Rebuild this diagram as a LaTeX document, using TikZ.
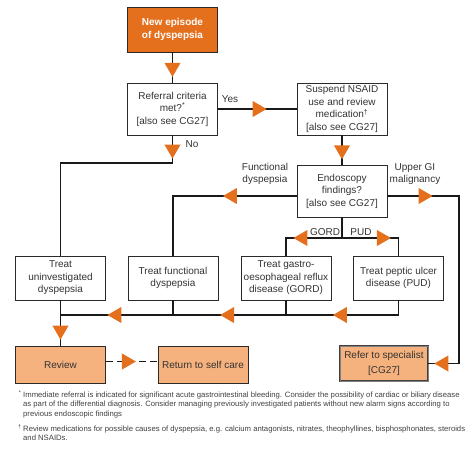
\documentclass[tikz,border=0pt]{standalone}
\usepackage{fontspec}
\setmainfont{Liberation Sans}
\usetikzlibrary{shapes.geometric}
\definecolor{darkorange}{HTML}{E4701E}
\definecolor{paleorange}{HTML}{F6B27E}
\definecolor{boxline}{HTML}{2E2A28}

\begin{document}
\begin{tikzpicture}[x=1pt,y=-1pt,
   box/.style={rectangle,draw=boxline,line width=0.9pt,minimum width=90pt,
    minimum height=52pt,inner sep=+2pt,align=center,text=black!80,
    font=\fontsize{10}{12.5}\selectfont},
   line/.style={draw=black!90,line width=1.3pt},
   tri/.style={isosceles triangle,isosceles triangle apex angle=60,
    fill=darkorange,inner sep=0pt,minimum height=14pt,sloped,
    allow upside down},
   lbl/.style={align=center,text=black!80,font=\fontsize{10}{12.5}\selectfont},
   note/.style={align=left,text=black!75,inner sep=0pt,
    font=\fontsize{7.7}{9.7}\selectfont}
    ]
    \useasboundingbox (0,0) rectangle (474,451);

    % Boxes:
    \node[box,fill=darkorange,minimum height=45pt,text=white,
      font=\fontsize{10}{12.5}\selectfont\bfseries] at (172.5,29.5) (start)
      {New episode\\of dyspepsia};
    \node[box] at (172.5,109) (refq)
      {Referral criteria\\met?\textsuperscript{*}\\{}[also see CG27]};
    \node[box] at (342,109) (nsaid)
      {Suspend NSAID\\use and review\\medication\textsuperscript{\dag}\\{}[also see CG27]};
    \node[box] at (342,191) (endo)
      {Endoscopy\\findings?\\{}[also see CG27]};
    \node[box,minimum height=44pt] at (60.5,278) (treatU)
      {Treat\\uninvestigated\\dyspepsia};
    \node[box,minimum height=44pt] at (173,278) (treatF)
      {Treat functional\\dyspepsia};
    \node[box,minimum height=44pt] at (286,278) (treatG)
      {Treat gastro-\\oesophageal reflux\\disease (GORD)};
    \node[box,minimum height=44pt] at (398.5,278) (treatP)
      {Treat peptic ulcer\\disease (PUD)};
    \node[box,fill=paleorange,minimum height=37pt] at (60.5,364.5) (review)
      {Review};
    \node[box,fill=paleorange,minimum height=37pt] at (203,364.5) (selfcare)
      {Return to self care};
    \node[box,fill=paleorange,minimum height=35pt,minimum width=88pt,
      draw=boxline!90,double=black!50,double distance=1pt,line width=0.9pt,
      font=\fontsize{10}{15}\selectfont] at (384,363.5) (refer)
      {Refer to specialist\\{}[CG27]};

    % corners of the lines
    \coordinate (noturn) at (172.5,163);
    \coordinate (malig) at (459,196);
    \coordinate (split) at (342,238);
    \coordinate (busU) at (60.5,315);
    \coordinate (busF) at (173,315);
    \coordinate (busG) at (286,315);
    \coordinate (busP) at (398.5,315);

    % labels
    \node[lbl] at (230,99) (yes) {Yes};
    \node[lbl] at (192,144) (no) {No};
    \node[lbl] at (265,174) (functional) {Functional\\dyspepsia};
    \node[lbl] at (415,174) (upper) {Upper GI\\malignancy};
    \node[lbl] at (325,232) (gord) {GORD};
    \node[lbl] at (361,232) (pud) {PUD};

    % arrows
    \draw[line] (start) -- node[tri] {} (refq);
    \draw[line] (refq) -- node[tri] {} (nsaid);
    \draw[line] (refq) -- node[tri] {} (noturn) -| (treatU);
    \draw[line] (nsaid) -- node[tri] {} (endo);
    \draw[line] ([yshift=-5pt]endo.west) -| node[tri,pos=0.26] {} (treatF);
    \draw[line] ([yshift=-5pt]endo.east) -- node[tri] {} (malig)
                 |- node[tri,pos=0.75] {} (refer);
    \draw[line] (endo) -- (split);
    \draw[line] (split) -| node[tri,pos=0.35] {} (treatG);
    \draw[line] (split) -| node[tri,pos=0.35] {} (treatP);
    \draw[line] (treatU) -- (busU);
    \draw[line] (treatF) -- (busF);
    \draw[line] (treatG) -- (busG);
    \draw[line] (treatP) -- (busP) -- node[tri] {} (busG)
                 -- node[tri] {} (busF) -- node[tri] {} (busU)
                 -- node[tri] {} (review);
    \draw[line,dash pattern=on 7pt off 4pt] ([yshift=3pt]review.east)
                 -- node[tri,pos=0.4] {} ([yshift=3pt]selfcare.west);

    % footnotes
    \node[note,anchor=north west] at (23,391.5) (note1)
      {Immediate referral is indicated for significant acute gastrointestinal bleeding. Consider the possibility of cardiac or biliary disease\\
       as part of the differential diagnosis. Consider managing previously investigated patients without new alarm signs according to\\
       previous endoscopic findings};
    \node[note,anchor=north east] at ([yshift=1pt]note1.north west) {\textsuperscript{*}\,};
    \node[note,anchor=north west] at (23,425.5) (note2)
      {Review medications for possible causes of dyspepsia, e.g. calcium antagonists, nitrates, theophyllines, bisphosphonates, steroids\\
       and NSAIDs.};
    \node[note,anchor=north east] at ([yshift=1pt]note2.north west) {\textsuperscript{\dag}\,};

\end{tikzpicture}
\end{document}
